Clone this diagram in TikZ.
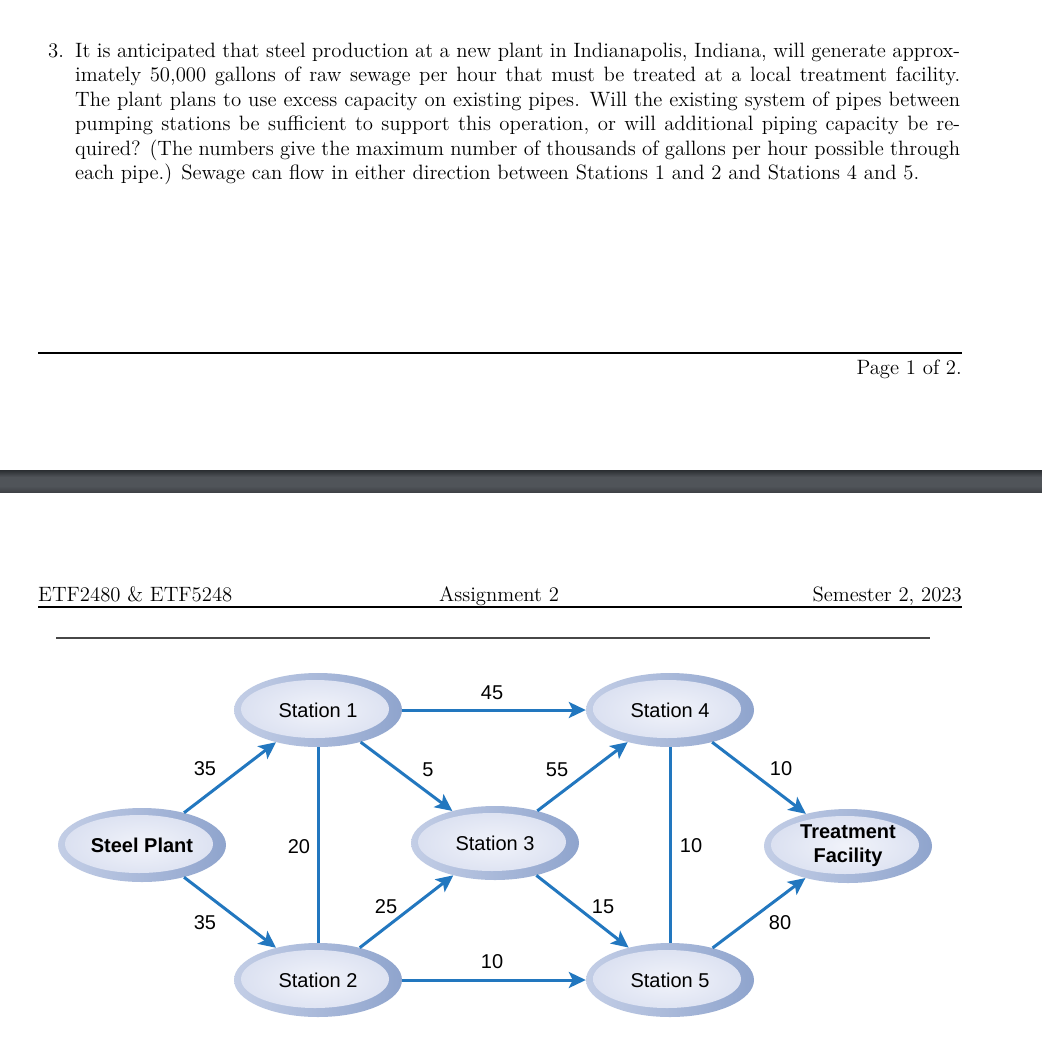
\documentclass[tikz,border=0pt]{standalone}
\usepackage{fontspec}
\setmainfont{lmroman12-regular.otf}
\newfontfamily\arialf{Liberation Sans}
\usetikzlibrary{shapes.geometric,arrows.meta}
\definecolor{pipeblue}{HTML}{2277BF}
\definecolor{ringlight}{HTML}{C3CEE6}
\definecolor{ringdark}{HTML}{8FA4CD}
\definecolor{innerlight}{HTML}{F1F3FA}
\definecolor{innerdark}{HTML}{D9DFF0}
\definecolor{barmid}{HTML}{505459}
\definecolor{bartop}{HTML}{2A2D31}
\definecolor{barbot}{HTML}{3F4246}
\tikzset{
  stn/.style={ellipse, minimum width=168pt, minimum height=74pt, inner sep=0pt,
    left color=ringlight, right color=ringdark,
    path picture={\shade[inner color=innerlight, outer color=innerdark]
      ([xshift=-3pt,yshift=1pt]path picture bounding box.center) ellipse (74pt and 29pt);},
    font=\arialf\fontsize{20}{23}\selectfont, text=black, align=center},
  pipe/.style={draw=pipeblue, line width=3pt, -{Stealth[length=17pt,width=16pt,inset=4pt]}},
  link/.style={draw=pipeblue, line width=3pt},
  lbl/.style={font=\arialf\fontsize{20}{23}\selectfont, inner sep=0pt},
  body/.style={anchor=base west, inner sep=0pt, font=\fontsize{20.75}{24.5}\selectfont},
}
\begin{document}
\begin{tikzpicture}[x=1pt,y=-1pt]
\useasboundingbox[fill=white] (0,0) rectangle (1042,1045);
% problem text
\node[body] (num) at (48,57) {3.};
\node[body] (t1) at (75,57) {\makebox[885pt][s]{It is anticipated that steel production at a new plant in Indianapolis, Indiana, will generate approx-}};
\node[body] (t2) at (75,81.5) {\makebox[885pt][s]{imately 50,000 gallons of raw sewage per hour that must be treated at a local treatment facility.}};
\node[body] (t3) at (75,106) {\makebox[885pt][s]{The plant plans to use excess capacity on existing pipes. Will the existing system of pipes between}};
\node[body] (t4) at (75,130.5) {\makebox[885pt][s]{pumping stations be sufficient to support this operation, or will additional piping capacity be re-}};
\node[body] (t5) at (75,155) {\makebox[885pt][s]{quired? (The numbers give the maximum number of thousands of gallons per hour possible through}};
\node[body] (t6) at (75,179.5) {each pipe.) Sewage can flow in either direction between Stations 1 and 2 and Stations 4 and 5.};
% footer
\draw[line width=1.2pt] (38,353) -- (962,353);
\node[body, anchor=base east] (pg) at (962,374) {Page 1 of 2.};
% page break bar
\fill[barmid] (0,470) rectangle (1042,492);
\shade[top color=bartop, bottom color=barmid] (0,470) rectangle (1042,477);
\shade[top color=barmid, bottom color=barbot] (0,486) rectangle (1042,492);
% header
\node[body] (h1) at (38,601) {ETF2480 \& ETF5248};
\node[body, anchor=base] (h2) at (499,601) {Assignment 2};
\node[body, anchor=base east] (h3) at (962,601) {Semester 2, 2023};
\draw[line width=1.2pt] (38,607) -- (962,607);
\draw[line width=2pt, black!72] (56,638) -- (930,638);
% network
\node[stn, font=\arialf\bfseries\fontsize{20}{23}\selectfont] (sp) at (142,845) {Steel Plant};
\node[stn] (s1) at (318,710) {Station 1};
\node[stn] (s2) at (318,980) {Station 2};
\node[stn] (s3) at (495,843) {Station 3};
\node[stn] (s4) at (670,710) {Station 4};
\node[stn] (s5) at (670,980) {Station 5};
\node[stn, font=\arialf\bfseries\fontsize{20}{24}\selectfont] (tf) at (848,846) {Treatment\\Facility};
\draw[pipe] (sp) -- (s1);
\draw[pipe] (sp) -- (s2);
\draw[link] (s1) -- (s2);
\draw[pipe] (s1) -- (s3);
\draw[pipe] (s2) -- (s3);
\draw[pipe] (s1) -- (s4);
\draw[pipe] (s2) -- (s5);
\draw[pipe] (s3) -- (s4);
\draw[pipe] (s3) -- (s5);
\draw[link] (s4) -- (s5);
\draw[pipe] (s4) -- (tf);
\draw[pipe] (s5) -- (tf);
% capacities
\node[lbl] (c1) at (205,769) {35};
\node[lbl] (c2) at (205,923) {35};
\node[lbl] (c3) at (299,847) {20};
\node[lbl] (c4) at (428,770) {5};
\node[lbl] (c5) at (386,907) {25};
\node[lbl] (c6) at (492,693) {45};
\node[lbl] (c7) at (492,962) {10};
\node[lbl] (c8) at (557,770) {55};
\node[lbl] (c9) at (603,907) {15};
\node[lbl] (c10) at (691,846) {10};
\node[lbl] (c11) at (781,769) {10};
\node[lbl] (c12) at (780,923) {80};
\end{tikzpicture}
\end{document}
